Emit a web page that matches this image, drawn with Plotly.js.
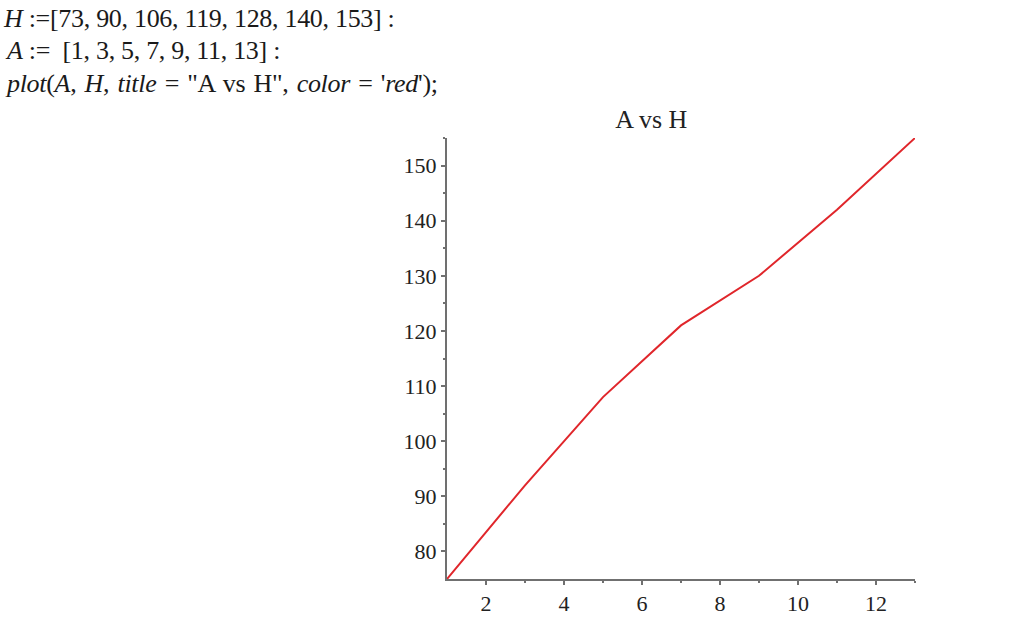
<!DOCTYPE html>
<html>
<head>
<meta charset="utf-8">
<script src="https://cdn.plot.ly/plotly-3.0.1.min.js"></script>
<style>
  html, body { margin: 0; padding: 0; background: #fff; }
  #wrap { position: relative; width: 1024px; height: 631px; overflow: hidden; }
  #chart { position: absolute; left: 0; top: 0; width: 1024px; height: 631px; }
  .code { position: absolute; font-family: "Liberation Serif", "DejaVu Serif", serif; font-size: 26px; color: #1a1a1a; white-space: pre; line-height: 1; letter-spacing: -0.3px; }
  .code i { font-style: italic; }
</style>
</head>
<body>
<div id="wrap">
  <div id="chart"></div>
  <div class="code" id="l1" style="left:4px; top:6px;"></div>
  <div class="code" id="l2" style="left:7px; top:38px;"></div>
  <div class="code" id="l3" style="left:7px; top:71px; word-spacing: 2px;"></div>
</div>
<script>
// Values as typed in the worksheet
var H_typed = [73, 90, 106, 119, 128, 140, 153];
var A = [1, 3, 5, 7, 9, 11, 13];
// Values as the line is drawn in the picture
var H_drawn = [75, 92, 108, 121, 130, 142, 155];
var plotTitle = "A vs H";
var xTickVals = [2, 4, 6, 8, 10, 12];
var yTickVals = [80, 90, 100, 110, 120, 130, 140, 150];

document.getElementById('l1').innerHTML = '<i>H</i> :=[' + H_typed.join(', ') + '] :';
document.getElementById('l2').innerHTML = '<i>A</i> := &nbsp;[' + A.join(', ') + '] :';
document.getElementById('l3').innerHTML = '<i>plot</i>(<i>A</i>, <i>H</i>, <i>title</i> = "A vs H", <i>color</i> = \'<i>red</i>\');';

var trace = {
  x: A, y: H_drawn, type: 'scatter', mode: 'lines',
  line: { color: '#e0262b', width: 2 },
  hoverinfo: 'skip'
};

var axisCommon = {
  showgrid: false, zeroline: false, showline: true,
  linecolor: '#707070', linewidth: 2,
  ticks: 'outside', ticklen: 4, tickwidth: 2, tickcolor: '#707070',
  tickfont: { family: 'Liberation Serif, serif', size: 22, color: '#222' }
};

var layout = {
  width: 1024, height: 631,
  paper_bgcolor: '#fff', plot_bgcolor: '#fff',
  margin: { l: 446.7, r: 109.3, t: 138.4, b: 51.8, pad: 0 },
  showlegend: false,
  title: { text: plotTitle, x: 0.4365, xref: 'paper', xanchor: 'center', y: 1, yref: 'paper', yanchor: 'bottom', pad: { b: 10 },
           font: { family: 'Liberation Serif, serif', size: 26, color: '#222' } },
  xaxis: Object.assign({}, axisCommon, {
    range: [1, 13], tickvals: xTickVals, ticktext: xTickVals.map(String),
    minor: { tickvals: [3, 5, 7, 9, 11, 13], ticks: 'outside', ticklen: 2, tickwidth: 2, tickcolor: '#707070' }
  }),
  yaxis: Object.assign({}, axisCommon, {
    range: [75, 155], tickvals: yTickVals, ticktext: yTickVals.map(String),
    minor: { tickvals: [85, 95, 105, 115, 125, 135, 145, 155], ticks: 'outside', ticklen: 2, tickwidth: 2, tickcolor: '#707070' }
  })
};

Plotly.newPlot('chart', [trace], layout, { displayModeBar: false, staticPlot: true });
</script>
</body>
</html>
